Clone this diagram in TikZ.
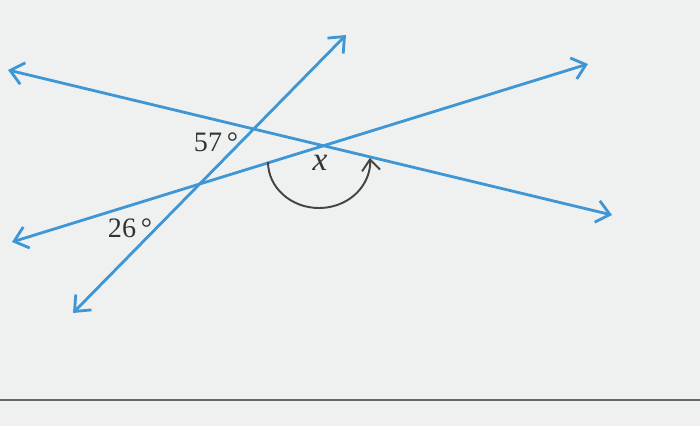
\documentclass[tikz,border=0pt]{standalone}
\usepackage{fontspec}
\setmainfont{Liberation Serif}
\usetikzlibrary{arrows.meta,positioning}
\definecolor{lineblue}{RGB}{62,150,212}
\definecolor{arcgray}{RGB}{68,68,68}
\definecolor{paper}{RGB}{239,241,241}
\tikzset{
  ray/.style={draw=lineblue,line width=1.6pt,
    {Straight Barb[length=2.6mm,width=4.4mm]}-{Straight Barb[length=2.6mm,width=4.4mm]}},
  turn/.style={draw=arcgray,line width=1.1pt,-{Straight Barb[length=2.2mm,width=3.6mm]}},
  angl/.style={font=\fontsize{16}{18}\selectfont,inner sep=0pt,text=black!80},
  rule/.style={draw=black!60,line width=1.2pt}
}
\begin{document}
\begin{tikzpicture}[x=0.02cm,y=-0.02cm]
    \fill[paper] (0,0) rectangle (700,426);
    \useasboundingbox (0,0) rectangle (700,426);
    % end points of the three lines
    \coordinate (a1) at (8,70);   \coordinate (a2) at (612,215);
    \coordinate (b1) at (12,242); \coordinate (b2) at (588,64);
    \coordinate (c1) at (73,313); \coordinate (c2) at (346,35);
    \draw[ray] (a1) -- (a2);
    \draw[ray] (b1) -- (b2);
    \draw[ray] (c1) -- (c2);
    \node[angl] (n57) at (216,142) {57\,°};
    \node[angl] (n26) at (130,228) {26\,°};
    \node[angl,font=\fontsize{19}{21}\selectfont\itshape] (x) at (320,163) {x};
    \coordinate (s) at (268,162);
    \draw[turn] (s) arc[start angle=180,end angle=-5,x radius=51,y radius=46];
    \coordinate (r1) at (0,400); \coordinate (r2) at (700,400);
    \draw[rule] (r1) -- (r2);
\end{tikzpicture}
\end{document}
